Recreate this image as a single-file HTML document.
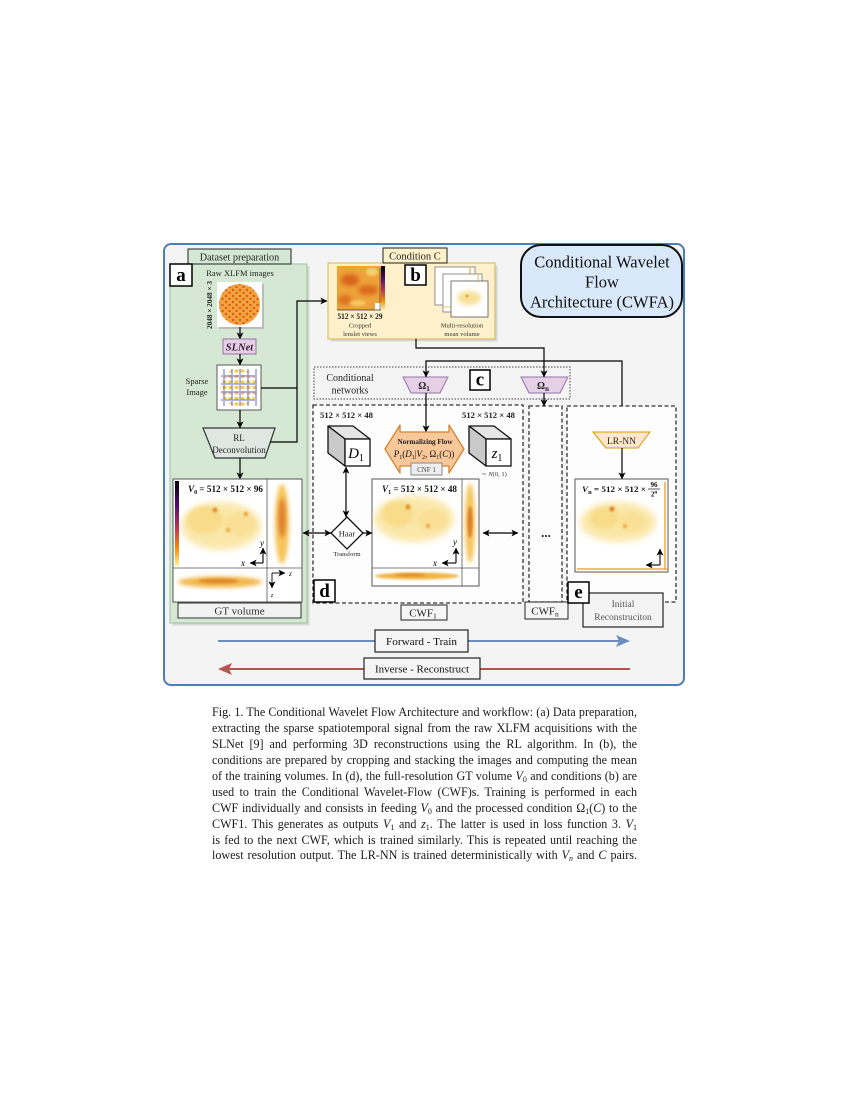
<!DOCTYPE html>
<html><head><meta charset="utf-8"><style>
html,body{margin:0;padding:0;background:#fff;}
body{width:850px;height:1100px;position:relative;overflow:hidden;}
#cap{position:absolute;left:212px;top:705px;width:425px;font-family:"Liberation Serif",serif;font-size:12.1px;line-height:15.95px;color:#1a1a1a;}
#cap .l{text-align:justify;text-align-last:justify;height:15.95px;word-spacing:-1px;}
#cap sub{font-size:8px;vertical-align:-2px;line-height:0;}
</style></head><body>
<svg width="850" height="1100" xmlns="http://www.w3.org/2000/svg" style="position:absolute;left:0;top:0" font-family="'Liberation Serif', serif">
<defs>
<marker id="ar" viewBox="0 0 10 10" refX="9.5" refY="5" markerWidth="7" markerHeight="7" orient="auto-start-reverse" markerUnits="userSpaceOnUse"><path d="M0,0 L10,5 L0,10 L2.5,5 z" fill="#000"/></marker>
<filter id="b1" x="-50%" y="-50%" width="200%" height="200%"><feGaussianBlur stdDeviation="1"/></filter>
<filter id="b2" x="-50%" y="-50%" width="200%" height="200%"><feGaussianBlur stdDeviation="2"/></filter>
<filter id="b3" x="-50%" y="-50%" width="200%" height="200%"><feGaussianBlur stdDeviation="3.5"/></filter>
<linearGradient id="cbar" x1="0" y1="0" x2="0" y2="1"><stop offset="0" stop-color="#000004"/><stop offset="0.3" stop-color="#56106e"/><stop offset="0.55" stop-color="#bb3754"/><stop offset="0.8" stop-color="#f98e09"/><stop offset="1" stop-color="#fcf3a0"/></linearGradient>
<pattern id="hex" width="7" height="6" patternUnits="userSpaceOnUse"><rect width="7" height="6" fill="#f3a43c"/><path d="M2,0.5 L3.5,2 L2,3.5 L0.5,2z" fill="#d9531f"/><path d="M5.5,3.5 L7,5 L5.5,6.5 L4,5z" fill="#d9531f"/></pattern>
<pattern id="sq" width="6" height="5.5" patternUnits="userSpaceOnUse"><rect x="0.5" y="1" width="4" height="3" fill="#f0c84a"/></pattern>
<pattern id="grid" width="8" height="8" patternUnits="userSpaceOnUse"><rect x="0.5" y="0.5" width="7" height="7" fill="none" stroke="#6a6ad8" stroke-width="0.5"/></pattern>
<clipPath id="c0"><rect x="173" y="479" width="94" height="89"/></clipPath>
<clipPath id="c1"><rect x="372" y="479" width="90" height="89"/></clipPath>
<clipPath id="c2"><rect x="575" y="479" width="93" height="93"/></clipPath>
<clipPath id="cl"><rect x="337" y="266" width="44" height="44"/></clipPath>
</defs>

<!-- outer frame -->
<rect x="164" y="244" width="520" height="441" rx="7" fill="#f4f4f4" stroke="#4a7ebb" stroke-width="2"/>

<!-- title -->
<rect x="521" y="245" width="161" height="72" rx="20" fill="#dae8fc" stroke="#111" stroke-width="2"/>
<text x="602" y="267.5" font-size="16.5" text-anchor="middle" fill="#111">Conditional Wavelet</text>
<text x="602" y="287.5" font-size="16.5" text-anchor="middle" fill="#111">Flow</text>
<text x="602" y="307.5" font-size="16.5" text-anchor="middle" fill="#111">Architecture (CWFA)</text>

<!-- green panel -->
<rect x="172.5" y="266.5" width="137" height="359" fill="#c4c4c4" opacity="0.6"/>
<rect x="170" y="264" width="137" height="359" fill="#d5e8d4" stroke="#9cc29a" stroke-width="1"/>
<rect x="188" y="249" width="103" height="15" fill="#d5e8d4" stroke="#222" stroke-width="1"/>
<text x="239.5" y="260.5" font-size="10.2" text-anchor="middle" fill="#222">Dataset preparation</text>
<rect x="170" y="264" width="22" height="22" fill="#fff" stroke="#000" stroke-width="1.5"/>
<text x="181" y="281" font-size="19" font-weight="bold" text-anchor="middle">a</text>
<text x="240" y="276" font-size="8.5" text-anchor="middle" fill="#222">Raw XLFM images</text>

<!-- raw image -->
<rect x="219" y="284" width="45" height="45" fill="#bbb"/>
<rect x="217" y="282" width="45" height="45" fill="#fff"/>
<circle cx="239.5" cy="304.5" r="20.5" fill="url(#hex)"/>
<text transform="translate(212,305) rotate(-90)" font-size="7.5" font-weight="bold" text-anchor="middle" fill="#222" textLength="48" lengthAdjust="spacingAndGlyphs">2048 × 2048 × 3</text>

<line x1="240" y1="327" x2="240" y2="339" stroke="#000" stroke-width="1.2" marker-end="url(#ar)"/>
<rect x="223" y="339" width="33" height="15" fill="#e6d0e6" stroke="#9673a6" stroke-width="1"/>
<text x="239.5" y="350.5" font-size="10.5" font-style="italic" font-weight="bold" text-anchor="middle" fill="#3a1a3a">SLNet</text>
<line x1="240" y1="354" x2="240" y2="365" stroke="#000" stroke-width="1.2" marker-end="url(#ar)"/>

<!-- sparse image -->
<rect x="217" y="365" width="44" height="45" fill="#fff" stroke="#333" stroke-width="0.8"/>
<circle cx="239" cy="387.5" r="19" fill="url(#sq)"/>
<rect x="221" y="369" width="36" height="37" fill="url(#grid)"/>
<text x="197" y="384" font-size="8.5" text-anchor="middle" fill="#222">Sparse</text>
<text x="197" y="395" font-size="8.5" text-anchor="middle" fill="#222">Image</text>
<line x1="240" y1="410" x2="240" y2="428" stroke="#000" stroke-width="1.2" marker-end="url(#ar)"/>

<!-- RL -->
<polygon points="203,428 275,428 265,458 215,458" fill="#dfe7e3" stroke="#333" stroke-width="1.2"/>
<text x="239" y="441" font-size="9" text-anchor="middle" fill="#222">RL</text>
<text x="239" y="453" font-size="9" text-anchor="middle" fill="#222">Deconvolution</text>
<line x1="240" y1="458" x2="240" y2="479" stroke="#000" stroke-width="1.2" marker-end="url(#ar)"/>

<!-- connectors to b -->
<polyline points="261,388 297,388 297,301 327,301" fill="none" stroke="#000" stroke-width="1.2" marker-end="url(#ar)"/>
<polyline points="270,442 297,442 297,388" fill="none" stroke="#000" stroke-width="1.2"/>

<!-- V0 image -->
<rect x="173" y="479" width="129" height="123" fill="#fff" stroke="#555" stroke-width="1"/>
<g clip-path="url(#c0)">
<ellipse cx="221" cy="526" rx="40" ry="24" fill="#fae8aa" filter="url(#b3)"/>
<ellipse cx="205" cy="520" rx="18" ry="14" fill="#f8dc8a" filter="url(#b2)"/>
<ellipse cx="240" cy="524" rx="16" ry="12" fill="#f9e096" filter="url(#b2)"/>
<circle cx="215" cy="510" r="2.5" fill="#e08a2a" filter="url(#b1)"/>
<circle cx="246" cy="514" r="2" fill="#e6962e" filter="url(#b1)"/>
<circle cx="228" cy="530" r="2" fill="#eea43a" filter="url(#b1)"/>
</g>
<rect x="175" y="481" width="4" height="85" fill="url(#cbar)"/>
<line x1="267" y1="479" x2="267" y2="602" stroke="#555" stroke-width="0.8"/>
<line x1="173" y1="568" x2="302" y2="568" stroke="#555" stroke-width="0.8"/>
<ellipse cx="282" cy="524" rx="7" ry="40" fill="#f5c55a" filter="url(#b2)"/>
<ellipse cx="282" cy="518" rx="3.5" ry="20" fill="#df7a2a" filter="url(#b2)"/>
<ellipse cx="220" cy="582" rx="42" ry="5.5" fill="#f2b646" filter="url(#b2)"/>
<ellipse cx="218" cy="581" rx="20" ry="2.5" fill="#e08a2c" filter="url(#b1)"/>
<text x="188" y="492" font-size="9" font-weight="bold" fill="#111" textLength="75" lengthAdjust="spacingAndGlyphs"><tspan font-style="italic">V</tspan><tspan font-size="6" dy="2">0</tspan><tspan dy="-2"> = 512 × 512 × 96</tspan></text>
<line x1="263" y1="563" x2="263" y2="548" stroke="#000" stroke-width="1.1" marker-end="url(#ar)"/>
<line x1="263" y1="563" x2="250" y2="563" stroke="#000" stroke-width="1.1" marker-end="url(#ar)"/>
<text x="262" y="546" font-size="9" font-style="italic" text-anchor="middle">y</text>
<text x="243" y="566" font-size="9" font-style="italic" text-anchor="middle">x</text>
<line x1="272" y1="573" x2="285" y2="573" stroke="#000" stroke-width="0.9" marker-end="url(#ar)"/>
<line x1="272" y1="573" x2="272" y2="588" stroke="#000" stroke-width="0.9" marker-end="url(#ar)"/>
<text x="289" y="576" font-size="7" font-style="italic">z</text>
<text x="272" y="597" font-size="6" font-style="italic" text-anchor="middle">z</text>
<rect x="178" y="603" width="123" height="15" fill="#f2f2f2" stroke="#333" stroke-width="1"/>
<text x="239.5" y="614.5" font-size="11" text-anchor="middle" fill="#333">GT volume</text>

<!-- Condition panel -->
<rect x="330.5" y="265.5" width="167" height="76" fill="#bdbdbd" opacity="0.55"/>
<rect x="328" y="263" width="167" height="76" fill="#fdf0cb" stroke="#d6b656" stroke-width="1"/>
<rect x="383" y="248" width="64" height="15" fill="#fdf0cb" stroke="#222" stroke-width="1"/>
<text x="415" y="259.5" font-size="10.5" text-anchor="middle" fill="#222">Condition C</text>
<rect x="405" y="265" width="21" height="20" fill="#fff" stroke="#000" stroke-width="1.5"/>
<text x="415.5" y="281" font-size="19" font-weight="bold" text-anchor="middle">b</text>
<!-- cropped lenslet -->
<rect x="337" y="266" width="44" height="44" fill="#eea23a"/>
<g clip-path="url(#cl)">
<ellipse cx="350" cy="280" rx="9" ry="6" fill="#d8631c" filter="url(#b2)"/>
<ellipse cx="368" cy="290" rx="10" ry="5" fill="#db6a1e" filter="url(#b2)"/>
<ellipse cx="345" cy="300" rx="7" ry="5" fill="#de7220" filter="url(#b2)"/>
<ellipse cx="372" cy="272" rx="6" ry="4" fill="#f8cf6a" filter="url(#b1)"/>
<ellipse cx="358" cy="303" rx="8" ry="3" fill="#f6c860" filter="url(#b1)"/>
</g>
<rect x="381" y="266" width="4" height="44" fill="url(#cbar)"/>
<rect x="375" y="303" width="6" height="7" fill="#fff"/>
<line x1="337" y1="310" x2="381" y2="310" stroke="#333" stroke-width="0.8"/>
<line x1="380" y1="268" x2="380" y2="310" stroke="#333" stroke-width="0.6"/>
<text x="360" y="319" font-size="8" font-weight="bold" text-anchor="middle" fill="#222" textLength="45" lengthAdjust="spacingAndGlyphs">512 × 512 × 29</text>
<text x="360" y="327.5" font-size="6.5" text-anchor="middle" fill="#333">Cropped</text>
<text x="360" y="336" font-size="6.5" text-anchor="middle" fill="#333">lenslet views</text>
<!-- multires -->
<rect x="435" y="267" width="40" height="38" fill="#fff" stroke="#777" stroke-width="0.8"/>
<line x1="470" y1="268" x2="470" y2="304" stroke="#f0c040" stroke-width="1.5"/>
<rect x="443" y="274" width="39" height="38" fill="#fff" stroke="#777" stroke-width="0.8"/>
<line x1="478" y1="275" x2="478" y2="311" stroke="#f2c850" stroke-width="1.2"/>
<line x1="444" y1="307" x2="480" y2="307" stroke="#f2c850" stroke-width="1"/>
<rect x="451" y="281" width="37" height="36" fill="#fff" stroke="#555" stroke-width="0.8"/>
<ellipse cx="469" cy="298" rx="12" ry="7" fill="#f8e29a" filter="url(#b2)"/>
<circle cx="467" cy="296" r="1.5" fill="#e8a030"/>
<text x="462" y="327.5" font-size="6.5" text-anchor="middle" fill="#333">Multi-resolution</text>
<text x="462" y="336" font-size="6.5" text-anchor="middle" fill="#333">mean volume</text>

<!-- conditional networks -->
<rect x="314" y="367" width="256" height="32" fill="none" stroke="#444" stroke-width="1" stroke-dasharray="1.5,1.5"/>
<text x="350" y="381" font-size="10" text-anchor="middle" fill="#222">Conditional</text>
<text x="350" y="393.5" font-size="10" text-anchor="middle" fill="#222">networks</text>
<polygon points="403,377 448,377 440,393 411,393" fill="#e6d0e6" stroke="#9673a6" stroke-width="1"/>
<text x="424" y="389" font-size="10" font-weight="bold" text-anchor="middle" fill="#222">Ω<tspan font-size="7" dy="2">1</tspan></text>
<polygon points="521,377 568,377 560,393 529,393" fill="#e6d0e6" stroke="#9673a6" stroke-width="1"/>
<text x="543" y="389" font-size="10" font-weight="bold" text-anchor="middle" fill="#222">Ω<tspan font-size="7" dy="2">n</tspan></text>
<rect x="470" y="370" width="20" height="20" fill="#fff" stroke="#000" stroke-width="1.5"/>
<text x="480" y="385.5" font-size="19" font-weight="bold" text-anchor="middle">c</text>

<!-- connectors from b -->
<polyline points="416,339 416,348 544,348 544,377" fill="none" stroke="#000" stroke-width="1.2" marker-end="url(#ar)"/>
<polyline points="426,377 426,361 622,361 622,432" fill="none" stroke="#000" stroke-width="1.2" marker-start="url(#ar)" marker-end="url(#ar)"/>

<!-- dashed boxes -->
<rect x="313" y="405" width="210" height="198" fill="#fdfdfd" stroke="#333" stroke-width="1.3" stroke-dasharray="4,2.5"/>
<rect x="529" y="406" width="33" height="196" fill="#fdfdfd" stroke="#333" stroke-width="1.3" stroke-dasharray="4,2.5"/>
<rect x="567" y="406" width="109" height="196" fill="#fdfdfd" stroke="#333" stroke-width="1.3" stroke-dasharray="4,2.5"/>
<line x1="426" y1="393" x2="426" y2="432" stroke="#000" stroke-width="1.2" marker-end="url(#ar)"/>
<line x1="544" y1="393" x2="544" y2="406" stroke="#000" stroke-width="1.2" marker-end="url(#ar)"/>

<text x="346.5" y="418" font-size="8" font-weight="bold" text-anchor="middle" fill="#222" textLength="53" lengthAdjust="spacingAndGlyphs">512 × 512 × 48</text>
<text x="488.5" y="418" font-size="8" font-weight="bold" text-anchor="middle" fill="#222" textLength="53" lengthAdjust="spacingAndGlyphs">512 × 512 × 48</text>

<!-- D1 cube -->
<polygon points="328,426 353,426 370,439 345,439" fill="#e6e6e6" stroke="#111" stroke-width="1.3" stroke-linejoin="round"/>
<polygon points="328,426 345,439 345,466 328,453" fill="#c9c9c9" stroke="#111" stroke-width="1.3" stroke-linejoin="round"/>
<rect x="345" y="439" width="25" height="27" fill="#fff" stroke="#111" stroke-width="1.3"/>
<text x="356" y="458" font-size="15" font-style="italic" text-anchor="middle">D<tspan font-size="10" font-style="normal" dy="3">1</tspan></text>
<!-- z1 cube -->
<polygon points="469,426 494,426 511,439 486,439" fill="#e6e6e6" stroke="#111" stroke-width="1.3" stroke-linejoin="round"/>
<polygon points="469,426 486,439 486,466 469,453" fill="#c9c9c9" stroke="#111" stroke-width="1.3" stroke-linejoin="round"/>
<rect x="486" y="439" width="25" height="27" fill="#fff" stroke="#111" stroke-width="1.3"/>
<text x="497" y="458" font-size="15" font-style="italic" text-anchor="middle">z<tspan font-size="10" font-style="normal" dy="3">1</tspan></text>
<text x="494" y="476" font-size="6.5" text-anchor="middle" fill="#333">∼ <tspan font-style="italic">N</tspan>(0, 1)</text>

<!-- normalizing flow -->
<polygon points="385,449 400,425 400,432 449,432 449,425 464,449 449,473 449,466 400,466 400,473" fill="#f8c79a" stroke="#d4842f" stroke-width="1.3" stroke-linejoin="round"/>
<text x="425" y="444" font-size="7.5" font-weight="bold" text-anchor="middle" fill="#222" textLength="55" lengthAdjust="spacingAndGlyphs">Normalizing Flow</text>
<text x="424" y="457" font-size="9" text-anchor="middle" fill="#111"><tspan font-style="italic">P</tspan><tspan font-size="6" dy="2">1</tspan><tspan dy="-2">(</tspan><tspan font-style="italic">D</tspan><tspan font-size="6" dy="2">1</tspan><tspan dy="-2">|</tspan><tspan font-style="italic">V</tspan><tspan font-size="6" dy="2">2</tspan><tspan dy="-2">, Ω</tspan><tspan font-size="6" dy="2">1</tspan><tspan dy="-2">(</tspan><tspan font-style="italic">C</tspan><tspan>))</tspan></text>
<rect x="411" y="463" width="31" height="12" fill="#eeeeee" stroke="#888" stroke-width="1"/>
<text x="426.5" y="472" font-size="7" text-anchor="middle" fill="#444">CNF 1</text>

<!-- V1 image -->
<rect x="372" y="479" width="107" height="107" fill="#fff" stroke="#555" stroke-width="1"/>
<g clip-path="url(#c1)">
<ellipse cx="414" cy="519" rx="40" ry="23" fill="#fae8aa" filter="url(#b3)"/>
<ellipse cx="398" cy="514" rx="16" ry="13" fill="#f8dc8a" filter="url(#b2)"/>
<ellipse cx="432" cy="520" rx="15" ry="11" fill="#f9e096" filter="url(#b2)"/>
<circle cx="408" cy="507" r="2.5" fill="#e08a2a" filter="url(#b1)"/>
<circle cx="428" cy="526" r="2" fill="#eea43a" filter="url(#b1)"/>
</g>
<line x1="462" y1="479" x2="462" y2="586" stroke="#555" stroke-width="0.8"/>
<line x1="372" y1="568" x2="479" y2="568" stroke="#555" stroke-width="0.8"/>
<ellipse cx="470" cy="523" rx="5" ry="40" fill="#f5c55a" filter="url(#b2)"/>
<ellipse cx="470" cy="522" rx="2.5" ry="16" fill="#df7a2a" filter="url(#b1)"/>
<ellipse cx="417" cy="576" rx="42" ry="3.5" fill="#f2b646" filter="url(#b1)"/>
<ellipse cx="410" cy="575" rx="16" ry="1.5" fill="#e08a2c" filter="url(#b1)"/>
<text x="382" y="492" font-size="9" font-weight="bold" fill="#111" textLength="75" lengthAdjust="spacingAndGlyphs"><tspan font-style="italic">V</tspan><tspan font-size="6" dy="2">1</tspan><tspan dy="-2"> = 512 × 512 × 48</tspan></text>
<line x1="456" y1="563" x2="456" y2="548" stroke="#000" stroke-width="1.1" marker-end="url(#ar)"/>
<line x1="456" y1="563" x2="442" y2="563" stroke="#000" stroke-width="1.1" marker-end="url(#ar)"/>
<text x="455" y="545" font-size="9" font-style="italic" text-anchor="middle">y</text>
<text x="435" y="566" font-size="9" font-style="italic" text-anchor="middle">x</text>

<!-- Haar -->
<polygon points="347,517 363,533 347,549 331,533" fill="#fff" stroke="#111" stroke-width="1.3"/>
<text x="347" y="536.5" font-size="8.5" text-anchor="middle" fill="#222">Haar</text>
<text x="347" y="556" font-size="6.5" text-anchor="middle" fill="#222">Transform</text>
<line x1="303" y1="533" x2="331" y2="533" stroke="#000" stroke-width="1.2" marker-start="url(#ar)" marker-end="url(#ar)"/>
<line x1="363" y1="533" x2="372" y2="533" stroke="#000" stroke-width="1.2" marker-end="url(#ar)"/>
<line x1="346" y1="467" x2="346" y2="517" stroke="#000" stroke-width="1.2" marker-start="url(#ar)" marker-end="url(#ar)"/>
<line x1="483" y1="533" x2="518" y2="533" stroke="#000" stroke-width="1.2" marker-start="url(#ar)" marker-end="url(#ar)"/>
<text x="546" y="537" font-size="13" font-weight="bold" text-anchor="middle" fill="#222">...</text>

<rect x="314" y="580" width="21" height="22" fill="#fff" stroke="#000" stroke-width="1.5"/>
<text x="324.5" y="597" font-size="19" font-weight="bold" text-anchor="middle">d</text>

<rect x="401" y="605" width="46" height="15" fill="#f5f5f5" stroke="#222" stroke-width="1"/>
<text x="423" y="616.5" font-size="11" text-anchor="middle" fill="#222">CWF<tspan font-size="7.5" dy="2">1</tspan></text>
<rect x="525" y="602" width="43" height="17" fill="#f5f5f5" stroke="#222" stroke-width="1"/>
<text x="545" y="614.5" font-size="11" text-anchor="middle" fill="#222">CWF<tspan font-size="7.5" dy="2">n</tspan></text>

<!-- LR-NN -->
<polygon points="593,432 650,432 638,448 606,448" fill="#ffe6cc" stroke="#d79b00" stroke-width="1"/>
<text x="621.5" y="444" font-size="9.5" text-anchor="middle" fill="#222">LR-NN</text>
<line x1="622" y1="448" x2="622" y2="479" stroke="#000" stroke-width="1.2" marker-end="url(#ar)"/>

<!-- Vn image -->
<rect x="575" y="479" width="93" height="93" fill="#fff" stroke="#555" stroke-width="1"/>
<g clip-path="url(#c2)">
<ellipse cx="618" cy="522" rx="38" ry="20" fill="#fae8aa" filter="url(#b3)"/>
<ellipse cx="605" cy="518" rx="15" ry="11" fill="#f8dc8a" filter="url(#b2)"/>
<ellipse cx="632" cy="522" rx="14" ry="10" fill="#f9e096" filter="url(#b2)"/>
<circle cx="612" cy="509" r="2.5" fill="#e07a28" filter="url(#b1)"/>
<circle cx="625" cy="526" r="2" fill="#eea43a" filter="url(#b1)"/>
</g>
<line x1="665" y1="482" x2="665" y2="570" stroke="#f0a840" stroke-width="1.5"/>
<line x1="577" y1="569" x2="667" y2="569" stroke="#f0a840" stroke-width="1.5"/>
<line x1="660" y1="565" x2="660" y2="549" stroke="#000" stroke-width="1.1" marker-end="url(#ar)"/>
<line x1="660" y1="565" x2="646" y2="565" stroke="#000" stroke-width="1.1" marker-end="url(#ar)"/>
<text x="582" y="492" font-size="8.5" font-weight="bold" fill="#111" textLength="64" lengthAdjust="spacingAndGlyphs"><tspan font-style="italic">V</tspan><tspan font-size="6" dy="2">n</tspan><tspan dy="-2"> = 512 × 512 ×</tspan></text>
<text x="654" y="487" font-size="7" font-weight="bold" text-anchor="middle" fill="#111">96</text>
<line x1="648" y1="489" x2="660" y2="489" stroke="#111" stroke-width="0.7"/>
<text x="654" y="496.5" font-size="7" font-weight="bold" text-anchor="middle" fill="#111">2<tspan font-size="5" dy="-3">n</tspan></text>

<!-- e / initial -->
<rect x="583" y="593" width="80" height="34" fill="#f4f4f4" stroke="#222" stroke-width="1.2"/>
<text x="623" y="607" font-size="9.5" text-anchor="middle" fill="#555">Initial</text>
<text x="623" y="620" font-size="9.5" text-anchor="middle" fill="#555">Reconstruciton</text>
<rect x="568" y="582" width="21" height="21" fill="#fff" stroke="#000" stroke-width="1.5"/>
<text x="578.5" y="598" font-size="19" font-weight="bold" text-anchor="middle">e</text>

<!-- forward / inverse -->
<line x1="218" y1="641" x2="620" y2="641" stroke="#6c8ebf" stroke-width="2"/>
<polygon points="630,641 616,635 619,641 616,647" fill="#6c8ebf"/>
<rect x="375" y="630" width="93" height="22" fill="#f5f5f5" stroke="#222" stroke-width="1.2"/>
<text x="421.5" y="645" font-size="11" text-anchor="middle" fill="#111" textLength="71" lengthAdjust="spacingAndGlyphs">Forward - Train</text>
<line x1="228" y1="669" x2="630" y2="669" stroke="#b85450" stroke-width="2"/>
<polygon points="218,669 232,663 229,669 232,675" fill="#b85450"/>
<rect x="364" y="658" width="116" height="21" fill="#f5f5f5" stroke="#222" stroke-width="1.2"/>
<text x="422" y="672.5" font-size="11" text-anchor="middle" fill="#111" textLength="94" lengthAdjust="spacingAndGlyphs">Inverse - Reconstruct</text>
</svg>

<div id="cap">
<div class="l">Fig. 1. The Conditional Wavelet Flow Architecture and workflow: (a) Data preparation,</div>
<div class="l">extracting the sparse spatiotemporal signal from the raw XLFM acquisitions with the</div>
<div class="l">SLNet [9] and performing 3D reconstructions using the RL algorithm. In (b), the</div>
<div class="l">conditions are prepared by cropping and stacking the images and computing the mean</div>
<div class="l">of the training volumes. In (d), the full-resolution GT volume <i>V</i><sub>0</sub> and conditions (b) are</div>
<div class="l">used to train the Conditional Wavelet-Flow (CWF)s. Training is performed in each</div>
<div class="l">CWF individually and consists in feeding <i>V</i><sub>0</sub> and the processed condition Ω<sub>1</sub>(<i>C</i>) to the</div>
<div class="l">CWF1. This generates as outputs <i>V</i><sub>1</sub> and <i>z</i><sub>1</sub>. The latter is used in loss function 3. <i>V</i><sub>1</sub></div>
<div class="l">is fed to the next CWF, which is trained similarly. This is repeated until reaching the</div>
<div class="l">lowest resolution output. The LR-NN is trained deterministically with <i>V<sub>n</sub></i> and <i>C</i> pairs.</div>
</div>
</body></html>
